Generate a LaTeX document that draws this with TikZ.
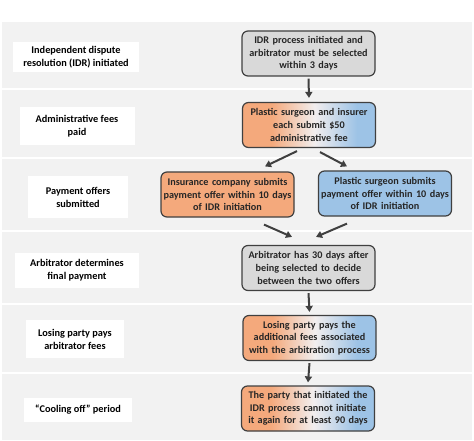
\documentclass[tikz,border=0pt]{standalone}
\usepackage{fontspec}
\setmainfont{Carlito}
\usetikzlibrary{arrows.meta,calc}
\definecolor{bandGray}{HTML}{F2F2F2}
\definecolor{boxGray}{HTML}{D9D9D9}
\definecolor{edgeGray}{HTML}{404040}
\definecolor{cIns}{HTML}{F4A97C}
\definecolor{cSurg}{HTML}{9DC3E6}
\definecolor{cMid}{HTML}{F2EEEE}
\pgfdeclarehorizontalshading{insSurg}{100bp}{color(0bp)=(cIns); color(36bp)=(cIns);
  color(52bp)=(cMid); color(68bp)=(cSurg); color(100bp)=(cSurg)}

\tikzset{
  stagebox/.style={rounded corners=6pt, draw=edgeGray, line width=1.2pt,
    minimum width=133pt, minimum height=45pt, text width=133pt, align=center,
    inner sep=0pt, font=\bfseries\fontsize{10.2}{12.6}\selectfont, text=black!85},
  grayfill/.style={stagebox, fill=boxGray},
  mixfill/.style={stagebox, shading=insSurg},
  stagelabel/.style={fill=white, align=center, inner sep=0pt,
    font=\bfseries\fontsize{10.3}{13}\selectfont},
  flow/.style={-{Triangle[length=6pt,width=7pt]}, edgeGray, line width=2pt}
}

\begin{document}
\begin{tikzpicture}[x=1pt,y=-1pt]
  \useasboundingbox (0,0) rectangle (474,441);
  % bands
  \foreach \top/\bot in {22/88,90/157,159/230,232/303,305/372,374/440}{
    \fill[bandGray] (2,\top) rectangle (472,\bot);
  }
  % stage labels on the left
  \foreach \n/\x/\y/\w/\h/\t in {
      lbIdr/76/57/126/30/{Independent dispute\\resolution (IDR) initiated},
      lbFees/77/126/115/38/{Administrative fees\\paid},
      lbOffer/78/197/100/41/{Payment offers\\submitted},
      lbArb/77/270/124/35/{Arbitrator determines\\final payment},
      lbLose/75/339/98/38/{Losing party pays\\arbitrator fees},
      lbCool/78/410/108/24/{“Cooling off” period}}{
    \node[stagelabel, minimum width=\w pt, minimum height=\h pt] (\n) at (\x,\y) {\t};
  }
  % process boxes
  \node[grayfill] (start) at (308.5,53.5) {IDR process initiated and\\arbitrator must be selected\\within 3 days};
  \node[mixfill] (fee) at (309,125) {Plastic surgeon and insurer\\each submit \$50\\administrative fee};
  \node[stagebox, fill=cIns] (insOffer) at (227.5,194.5) {Insurance company submits\\payment offer within 10 days\\of IDR initiation};
  \node[stagebox, fill=cSurg] (surgOffer) at (385,193.5) {Plastic surgeon submits\\payment offer within 10 days\\of IDR initiation};
  \node[grayfill] (decide) at (308.5,268) {Arbitrator has 30 days after\\being selected to decide\\between the two offers};
  \node[mixfill] (lose) at (309.5,338) {Losing party pays the\\additional fees associated\\with the arbitration process};
  \node[mixfill] (cool) at (308,408.5) {The party that initiated the\\IDR process cannot initiate\\it again for at least 90 days};
  % arrows
  \draw[flow] ([yshift=-2pt]start.south) -- ([yshift=4pt]fee.north);
  \draw[flow] ($(fee.south)+(-12,3)$) -- ($(insOffer.north)+(37.5,-5)$);
  \draw[flow] ($(fee.south)+(11,4)$) -- ($(surgOffer.north)+(-38,-4)$);
  \draw[flow] ($(insOffer.south)+(36.5,7)$) -- ($(decide.north)+(-16.5,-8)$);
  \draw[flow] ($(surgOffer.south)+(-38,7)$) -- ($(decide.north)+(7.5,-8)$);
  \draw[flow] ([yshift=-2pt]decide.south) -- ([yshift=3pt]lose.north);
  \draw[flow] ([yshift=-2pt]lose.south) -- ([yshift=3pt]cool.north);
\end{tikzpicture}
\end{document}
